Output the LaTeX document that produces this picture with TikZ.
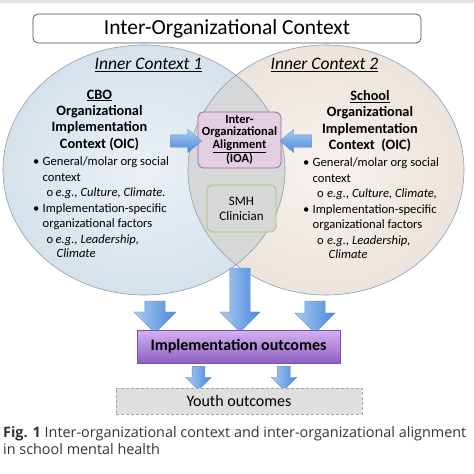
\documentclass[tikz,border=0pt]{standalone}
\usepackage{fontspec}
\setmainfont{Carlito}
\newfontfamily\capfont{Open Sans}
\usepackage{tikz}
\usetikzlibrary{shapes.arrows,positioning}

\definecolor{leftin}{HTML}{EBF1F5}
\definecolor{leftout}{HTML}{D6E2EB}
\definecolor{rightin}{HTML}{F7F3EF}
\definecolor{rightout}{HTML}{ECE4DC}
\definecolor{lensgray}{HTML}{D6D8D8}
\definecolor{vennline}{HTML}{8C9DB3}
\definecolor{ioafill}{HTML}{E2CFDF}
\definecolor{ioaline}{HTML}{A0649A}
\definecolor{smhline}{HTML}{A8C46C}
\definecolor{arrlight}{HTML}{AACBF2}
\definecolor{arrdark}{HTML}{4A88DB}
\definecolor{arrline}{HTML}{5D8FD3}
\definecolor{impltop}{HTML}{D3B3F0}
\definecolor{implbot}{HTML}{8E5FC4}
\definecolor{implline}{HTML}{7E4DB0}

\begin{document}
\begin{tikzpicture}[x=1pt,y=1pt,
  downarrow/.style={single arrow, shape border rotate=270,
    left color=arrlight, right color=arrdark, draw=arrline, line width=0.3pt},
  sidearrow/.style={single arrow, single arrow tip angle=80,
    top color=arrlight, bottom color=arrdark, draw=arrline, line width=0.3pt},
  headtext/.style={align=center, inner sep=0pt, font=\fontsize{14.3}{16.4}\selectfont\bfseries},
  itemtext/.style={anchor=base west, inner sep=0pt, font=\fontsize{12.6}{15}\selectfont},
  innerlabel/.style={inner sep=0pt, font=\fontsize{17.5}{20}\selectfont\itshape}]
  \useasboundingbox (0,0) rectangle (474,-474);
  \fill[gray!22] (0,0) rectangle (474,-3);

  % ===== Venn =====
  \shade[inner color=leftin, outer color=leftout] (144,-170) ellipse [x radius=141, y radius=125];
  \shade[inner color=rightin, outer color=rightout] (326,-170) ellipse [x radius=138, y radius=125];
  \begin{scope}
    \clip (144,-170) ellipse [x radius=141, y radius=125];
    \fill[lensgray] (326,-170) ellipse [x radius=138, y radius=125];
  \end{scope}
  \draw[vennline, line width=0.6pt] (144,-170) ellipse [x radius=141, y radius=125];
  \draw[vennline, line width=0.6pt] (326,-170) ellipse [x radius=138, y radius=125];

  % Outer context
  \node[draw=gray!60!black, fill=white, rounded corners=5pt, line width=0.7pt,
    minimum width=388, minimum height=29, inner sep=0pt,
    font=\fontsize{21.5}{24}\selectfont] (ctx) at (227,-28.5) {Inter-Organizational Context};

  \node[innerlabel] (ic1) at (148.5,-65) {\underline{Inner Context 1}};
  \node[innerlabel] (ic2) at (324.5,-65) {\underline{Inner Context 2}};

  % --- CBO side ---
  \node[headtext] (cboHead) at (99.5,-120) {\underline{CBO}\\Organizational\\Implementation\\Context (OIC)};
  \node[itemtext] (cbo1) at (33,-165.5) {\makebox[9.5pt][l]{•}General/molar org social};
  \node[itemtext] (cbo2) at (42.5,-181) {context};
  \node[itemtext] (cbo3) at (46.5,-196.5) {\makebox[9pt][l]{o}\textit{e.g., Culture, Climate.}};
  \node[itemtext] (cbo4) at (33,-212) {\makebox[9.5pt][l]{•}Implementation-specific};
  \node[itemtext] (cbo5) at (42.5,-227) {organizational factors};
  \node[itemtext] (cbo6) at (46.5,-243.5) {\makebox[9pt][l]{o}\textit{e.g., Leadership,}};
  \node[itemtext] (cbo7) at (56.5,-257.5) {\textit{Climate}};

  % --- School side ---
  \node[headtext] (schHead) at (370,-121) {\underline{School}\\Organizational\\Implementation\\Context\ \ (OIC)};
  \node[itemtext] (sch1) at (303,-166.5) {\makebox[9.5pt][l]{•}General/molar org social};
  \node[itemtext] (sch2) at (312.5,-182) {context};
  \node[itemtext] (sch3) at (317,-197.5) {\makebox[10pt][l]{o}\textit{e.g., Culture, Climate,}};
  \node[itemtext] (sch4) at (303,-213) {\makebox[9.5pt][l]{•}Implementation-specific};
  \node[itemtext] (sch5) at (312.5,-228) {organizational factors};
  \node[itemtext] (sch6) at (317,-244) {\makebox[10pt][l]{o}\textit{e.g., Leadership,}};
  \node[itemtext] (sch7) at (328.5,-258) {\textit{Climate}};

  % --- Lens boxes ---
  \node[draw=ioaline, fill=ioafill, rounded corners=6pt, line width=0.8pt,
    minimum width=83, minimum height=56, inner sep=0pt, align=center,
    font=\fontsize{12.5}{12.6}\selectfont\bfseries] (ioa) at (239.5,-140)
    {Inter-\\Organizational\\\underline{Alignment}\\(IOA)};
  \node[draw=smhline, fill=lensgray, rounded corners=6pt, line width=0.8pt,
    minimum width=69, minimum height=47, inner sep=0pt, align=center,
    font=\fontsize{13}{15}\selectfont] (smh) at (241.5,-208.5) {SMH\\Clinician};

  \node[sidearrow, inner sep=6pt, minimum height=31, single arrow head extend=5.5]
    (arrIn1) at (182.5,-141) {};
  \node[sidearrow, shape border rotate=180, inner sep=6pt, minimum height=32,
    single arrow head extend=5.5] (arrIn2) at (299.5,-141) {};

  % --- Outcomes ---
  \node[downarrow, inner sep=10pt, minimum height=64, single arrow head extend=10]
    (arrMid) at (240,-295) {};
  \node[downarrow, inner sep=10pt, minimum height=32, single arrow head extend=11]
    (arrL) at (155,-312) {};
  \node[downarrow, inner sep=10pt, minimum height=32, single arrow head extend=10]
    (arrR) at (315,-312) {};

  \node[top color=impltop, bottom color=implbot, draw=implline, line width=0.5pt,
    minimum width=203, minimum height=33, inner sep=0pt,
    font=\fontsize{16}{18}\selectfont\bfseries] (impl) at (238.5,-346.5) {Implementation outcomes};

  \node[downarrow, inner sep=6.25pt, minimum height=24, single arrow head extend=6.5]
    (arrY1) at (198.5,-375) {};
  \node[downarrow, inner sep=6.25pt, minimum height=24, single arrow head extend=6.5]
    (arrY2) at (284,-375) {};

  \node[fill=gray!25, draw=gray!70, densely dashed, line width=0.4pt,
    minimum width=246, minimum height=26, inner sep=0pt,
    font=\fontsize{16}{18}\selectfont] (youth) at (239,-401) {Youth outcomes};

  % --- Caption ---
  \node[anchor=base west, inner sep=0pt, text=black!80, font=\capfont\fontsize{14.4}{17}\selectfont]
    (cap1) at (3,-437) {\textbf{Fig. 1} Inter-organizational context and inter-organizational alignment};
  \node[anchor=base west, inner sep=0pt, text=black!80, font=\capfont\fontsize{14.4}{17}\selectfont]
    (cap2) at (3,-454) {in school mental health};
\end{tikzpicture}
\end{document}
